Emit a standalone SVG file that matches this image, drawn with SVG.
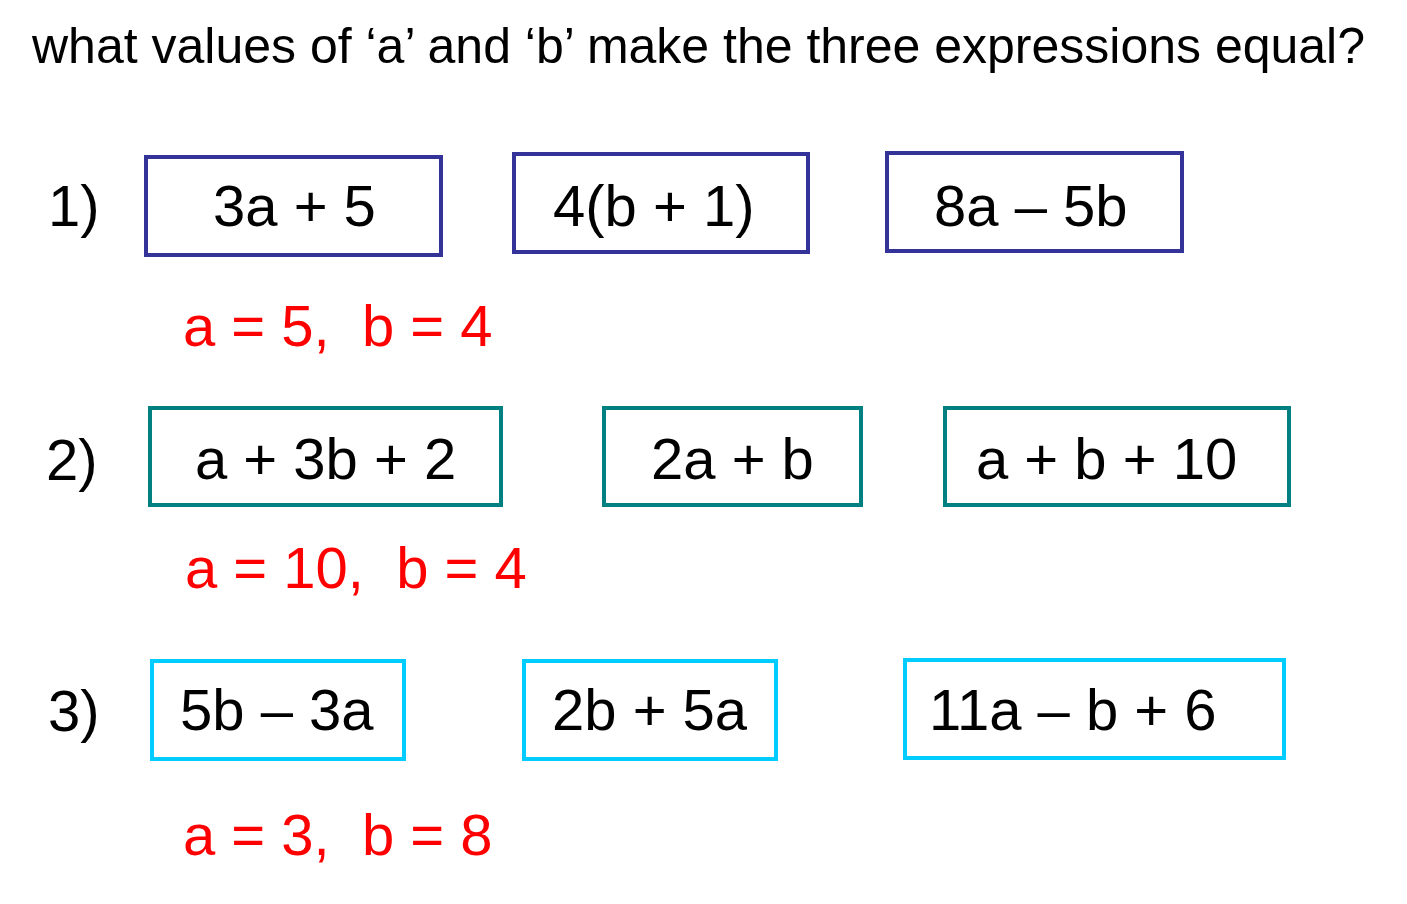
<svg xmlns="http://www.w3.org/2000/svg" width="1407" height="904" viewBox="0 0 1407 904">
<style>
text{font-family:"Liberation Sans",Arial,sans-serif;fill:#000;white-space:pre}
.t{font-size:50px}
.e{font-size:58px}
.r{font-size:58px;fill:#FF0000}
rect{fill:none;stroke-width:4}
.b1{stroke:#333399}.b2{stroke:#008080}.b3{stroke:#00CCFF}
</style>
<rect width="1407" height="904" fill="#fff"/>
<text class="t" x="32" y="63" textLength="1333">what values of ‘a’ and ‘b’ make the three expressions equal?</text>
<text class="e" x="48" y="226">1)</text>
<text class="e" x="46" y="480">2)</text>
<text class="e" x="48" y="731">3)</text>
<g id="n11"><rect class="b1" x="146" y="157" width="295" height="98"/><text class="e" x="213" y="226">3a + 5</text></g>
<g id="n12"><rect class="b1" x="514" y="154" width="294" height="98"/><text class="e" x="553" y="226">4(b + 1)</text></g>
<g id="n13"><rect class="b1" x="887" y="153" width="295" height="98"/><text class="e" x="934" y="226">8a – 5b</text></g>
<g id="n21"><rect class="b2" x="150" y="408" width="351" height="97"/><text class="e" x="195" y="479">a + 3b + 2</text></g>
<g id="n22"><rect class="b2" x="604" y="408" width="257" height="97"/><text class="e" x="651" y="479">2a + b</text></g>
<g id="n23"><rect class="b2" x="945" y="408" width="344" height="97"/><text class="e" x="976" y="479">a + b + 10</text></g>
<g id="n31"><rect class="b3" x="152" y="661" width="252" height="98"/><text class="e" x="180" y="730">5b – 3a</text></g>
<g id="n32"><rect class="b3" x="524" y="661" width="252" height="98"/><text class="e" x="552" y="730">2b + 5a</text></g>
<g id="n33"><rect class="b3" x="905" y="660" width="379" height="98"/><text class="e" x="929" y="730">11a – b + 6</text></g>
<text class="r" x="183" y="346">a = 5,  b = 4</text>
<text class="r" x="185" y="588">a = 10,  b = 4</text>
<text class="r" x="183" y="855">a = 3,  b = 8</text>
<g id="connectors"/>
</svg>
